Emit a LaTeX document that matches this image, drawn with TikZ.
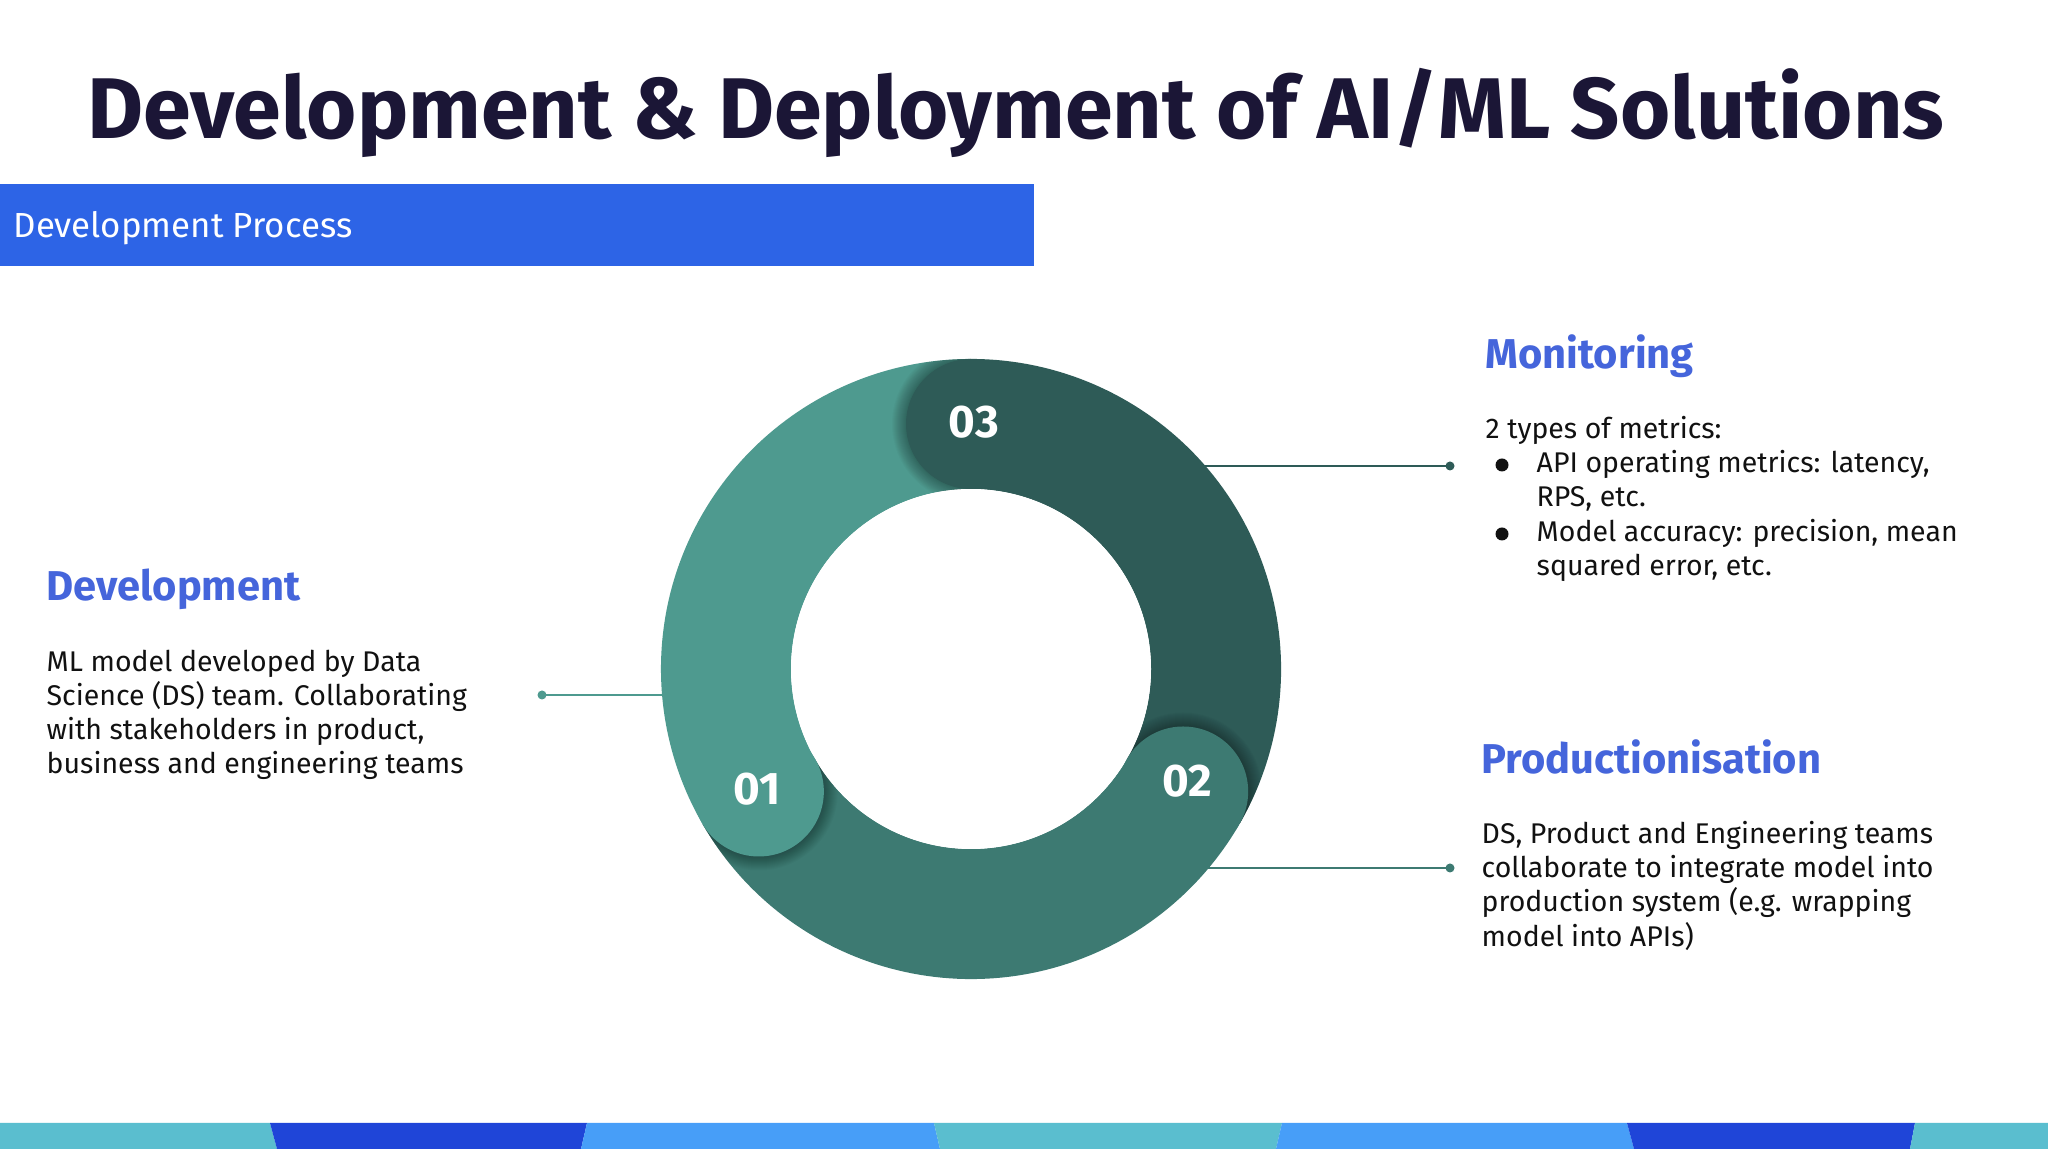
\documentclass[tikz,border=0pt]{standalone}
\usepackage{fontspec}
\setmainfont{Fira Sans}
\definecolor{cLight}{HTML}{4E9A8F}
\definecolor{cMid}{HTML}{3D7A72}
\definecolor{cDark}{HTML}{2E5B57}
\definecolor{cNavy}{HTML}{1B1636}
\definecolor{cHead}{HTML}{4565DB}
\definecolor{cBar}{HTML}{2D64E6}
\definecolor{sCyan}{HTML}{5ABECF}
\definecolor{sDark}{HTML}{1F45D8}
\definecolor{sLight}{HTML}{479EF8}
\definecolor{cText}{HTML}{111111}
\begin{document}
\begin{tikzpicture}[x=0.01cm,y=0.01cm,
  body/.style={anchor=base west, inner sep=0pt, text=cText, font=\fontsize{8.1pt}{9.7pt}\selectfont},
  heading/.style={anchor=base west, inner sep=0pt, text=cHead, font=\fontsize{11.85pt}{13pt}\selectfont\bfseries},
  num/.style={inner sep=0pt, text=white, font=\fontsize{13pt}{15pt}\selectfont\bfseries},
  dotnode/.style={circle, inner sep=0pt, minimum size=0.09cm},
  link/.style={line width=0.7pt}]
\fill[white] (0,0) rectangle (2048,1149);
\useasboundingbox (0,0) rectangle (2048,1149);

% title
\node[anchor=base, inner sep=0pt, text=cNavy, font=\fontsize{24.5pt}{28pt}\selectfont\bfseries] (title) at (1016,1010) {Development \& Deployment of AI/ML Solutions};

% bar
\fill[cBar] (0,883) rectangle (1034,965);
\node[anchor=base west, inner sep=0pt, text=white, font=\fontsize{9.9pt}{11pt}\selectfont] (bartext) at (13,911) {Development Process};

% bottom strip
\fill[sCyan] (0,0) -- (0,26) -- (270,26) -- (277,0) -- cycle;
\fill[sDark] (277,0) -- (270,26) -- (587,26) -- (581,0) -- cycle;
\fill[sLight] (581,0) -- (587,26) -- (934,26) -- (940,0) -- cycle;
\fill[sCyan] (940,0) -- (934,26) -- (1282,26) -- (1276,0) -- cycle;
\fill[sLight] (1276,0) -- (1282,26) -- (1627,26) -- (1634,0) -- cycle;
\fill[sDark] (1634,0) -- (1627,26) -- (1915,26) -- (1910,0) -- cycle;
\fill[sCyan] (1910,0) -- (1915,26) -- (2048,26) -- (2048,0) -- cycle;

% connectors
\node[dotnode, fill=cLight] (ddot) at (542,454) {};
\coordinate (dring) at (664,454);
\draw[link, cLight] (ddot.center) -- (dring);
\node[dotnode, fill=cDark] (mdot) at (1450,683) {};
\coordinate (mring) at (1203,683);
\draw[link, cDark] (mdot.center) -- (mring);
\node[dotnode, fill=cMid] (pdot) at (1450,281) {};
\coordinate (pring) at (1207,281);
\draw[link, cMid] (pdot.center) -- (pring);

% ring
\coordinate (C) at (971,480);
\draw[cLight, line width=1.3cm] (C) ++(90:245) arc[start angle=90, end angle=210, radius=245];
\draw[cMid, line width=1.3cm] (C) ++(210:245) arc[start angle=210, end angle=330, radius=245];
\draw[cDark, line width=1.3cm] (C) ++(330:245) arc[start angle=330, end angle=450, radius=245];
\foreach \a in {90, 330, 210} {
  \begin{scope}
    \clip (C) circle[radius=310];
    \clip (C) ++(\a:245) ++(\a:220) -- ++(\a+90:220) -- ++(\a+180:440) -- ++(\a-90:220) -- cycle;
    \foreach \k in {1,...,14} \fill[black, opacity=0.022] (C) ++(\a:245) circle[radius=65+\k];
  \end{scope}
}
\fill[white] (C) circle[radius=180];
\foreach \a/\c in {90/cDark, 330/cMid, 210/cLight} {
  \fill[\c] (C) ++(\a:245) circle[radius=65];
}
\node[num] (n03) at (974,727) {03};
\node[num] (n02) at (1187,368) {02};
\node[num] (n01) at (757,360) {01};

% Development
\node[heading] (devh) at (46,548) {Development};
\node[body] (d1) at (46,477) {ML model developed by Data};
\node[body] (d2) at (46,443) {Science (DS) team. Collaborating};
\node[body] (d3) at (46,409) {with stakeholders in product,};
\node[body] (d4) at (46,375) {business and engineering teams};

% Monitoring
\node[heading] (monh) at (1485,780) {Monitoring};
\node[body] (m0) at (1485,710) {2 types of metrics:};
\fill[cText] (1502,684) circle[radius=6.5];
\node[body] (m1) at (1536,676) {API operating metrics: latency,};
\node[body] (m2) at (1536,642) {RPS, etc.};
\fill[cText] (1502,615) circle[radius=6.5];
\node[body] (m3) at (1536,607) {Model accuracy: precision, mean};
\node[body] (m4) at (1536,573) {squared error, etc.};

% Productionisation
\node[heading] (proh) at (1481,375) {Productionisation};
\node[body] (p1) at (1481,305) {DS, Product and Engineering teams};
\node[body] (p2) at (1481,271) {collaborate to integrate model into};
\node[body] (p3) at (1481,237) {production system (e.g. wrapping};
\node[body] (p4) at (1481,202) {model into APIs)};
\end{tikzpicture}
\end{document}
